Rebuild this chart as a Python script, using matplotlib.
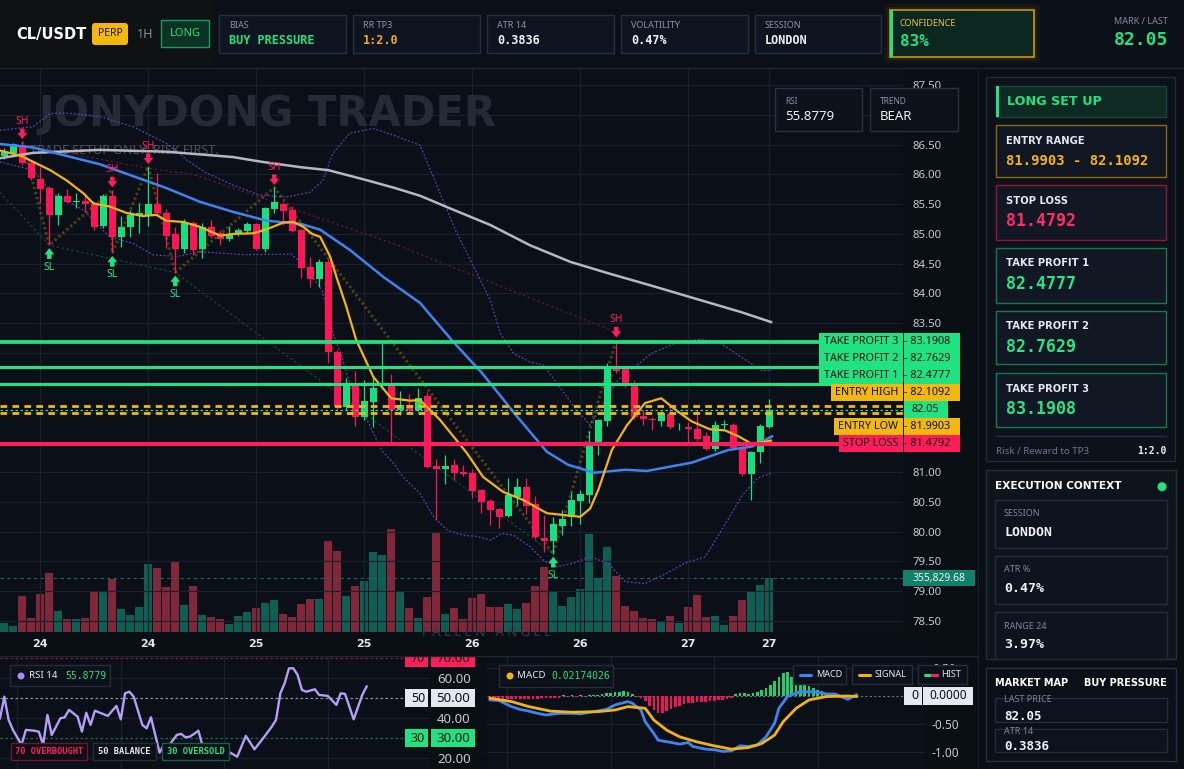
import numpy as np
import matplotlib.pyplot as plt
from matplotlib.patches import Rectangle, Circle, FancyBboxPatch
from matplotlib.transforms import blended_transform_factory

# ---------------- data ----------------
opens = [86.30, 86.36, 86.49, 86.19, 85.92, 85.77, 85.31, 85.64, 85.54, 85.55,
         85.50, 85.13, 85.63, 84.94, 85.11, 85.30, 85.32, 85.50, 85.35, 85.00,
         84.75, 85.18, 84.74, 85.11, 85.01, 84.91, 85.00, 85.05, 85.17, 84.75,
         85.41, 85.51, 85.40, 85.07, 84.45, 84.25, 84.53, 83.02, 82.10, 82.45,
         81.93, 82.18, 82.44, 82.45, 82.04, 82.13, 82.04, 82.27, 81.11, 81.06,
         81.12, 81.00, 80.98, 80.70, 80.52, 80.38, 80.26, 80.59, 80.75, 80.46,
         79.90, 79.85, 80.10, 80.25, 80.52, 80.62, 81.46, 81.86, 82.73, 82.73,
         82.50, 81.94, 81.90, 81.86, 81.98, 81.75, 81.76, 81.72, 81.60, 81.39,
         81.79, 81.79, 81.40, 80.97, 81.33, 81.76]
closes = [86.38, 86.51, 86.19, 85.93, 85.75, 85.32, 85.64, 85.54, 85.55, 85.51,
          85.12, 85.64, 84.95, 85.12, 85.32, 85.35, 85.50, 85.35, 84.96, 84.75,
          85.19, 84.73, 85.11, 84.96, 84.91, 85.00, 85.07, 85.17, 84.75, 85.43,
          85.53, 85.38, 85.05, 84.43, 84.25, 84.53, 83.01, 82.10, 82.49, 81.93,
          82.19, 82.42, 82.50, 82.04, 82.13, 82.04, 82.25, 81.09, 81.06, 81.11,
          80.98, 80.97, 80.69, 80.50, 80.36, 80.24, 80.62, 80.75, 80.43, 79.91,
          79.85, 80.13, 80.21, 80.53, 80.63, 81.47, 81.88, 82.74, 82.70, 82.49,
          81.93, 81.89, 81.88, 81.99, 81.75, 81.76, 81.72, 81.56, 81.39, 81.79,
          81.80, 81.40, 80.97, 81.34, 81.77, 82.05]
highs = [86.45, 86.53, 86.55, 86.22, 86.13, 85.80, 85.68, 85.75, 85.69, 85.68,
         85.55, 85.67, 85.74, 85.30, 85.40, 85.52, 86.13, 86.02, 85.42, 85.12,
         85.25, 85.22, 85.18, 85.23, 85.07, 85.13, 85.10, 85.20, 85.19, 85.45,
         85.78, 85.53, 85.47, 85.09, 84.62, 84.58, 84.58, 83.05, 82.58, 82.70,
         82.55, 82.63, 83.17, 82.65, 82.37, 82.32, 82.41, 82.35, 81.22, 81.28,
         81.22, 81.12, 81.05, 80.72, 80.55, 80.40, 80.90, 80.90, 80.90, 80.60,
         80.28, 80.25, 80.37, 80.66, 80.70, 81.69, 81.90, 82.84, 83.22, 82.78,
         82.55, 82.05, 81.92, 82.03, 82.07, 81.82, 81.85, 82.04, 81.68, 81.86,
         81.88, 81.82, 81.45, 81.35, 81.80, 82.23]
lows = [86.25, 86.32, 86.15, 85.90, 85.52, 84.81, 85.15, 85.52, 85.43, 85.38,
        85.07, 85.10, 84.68, 84.78, 84.95, 85.02, 85.13, 85.30, 84.76, 84.35,
        84.68, 84.65, 84.60, 84.93, 84.82, 84.88, 84.96, 85.02, 84.73, 84.69,
        85.35, 85.15, 85.03, 84.26, 84.10, 84.10, 82.84, 82.05, 82.05, 81.78,
        81.87, 81.75, 82.40, 81.51, 81.96, 81.99, 82.02, 81.07, 80.20, 80.80,
        80.86, 80.94, 80.57, 80.31, 80.11, 80.06, 80.24, 80.45, 80.30, 79.88,
        79.66, 79.63, 79.95, 80.10, 80.13, 80.49, 81.28, 81.77, 82.67, 82.43,
        81.90, 81.79, 81.71, 81.78, 81.72, 81.70, 81.50, 81.52, 81.37, 81.36,
        81.71, 81.37, 80.93, 80.53, 81.15, 81.74]
volumes_k = [59, 40, 237, 92, 250, 389, 138, 86, 86, 92, 264, 264, 349, 152, 112, 165,
             448, 422, 297, 461, 178, 303, 112, 99, 86, 53, 105, 132, 158, 191, 211, 119,
             99, 185, 217, 217, 600, 534, 237, 303, 336, 527, 507, 679, 270, 158, 92, 231,
             659, 119, 158, 86, 224, 250, 165, 165, 185, 152, 191, 303, 428, 264, 171, 231,
             283, 646, 356, 560, 369, 171, 138, 92, 86, 73, 105, 59, 165, 244, 99, 105,
             46, 105, 211, 270, 310, 355.83]

date_ticks = [4, 16, 28, 40, 52, 64, 76, 85]
date_labels = ['24', '24', '25', '25', '26', '26', '27', '27']

ema_fast_idx = [-0.5, 1.7, 3.2, 5.1, 6.9, 8.8, 9.9, 11.7, 13.6, 15.4, 16.9, 18.0, 19.9, 21.7,
                24.0, 25.5, 27.7, 29.2, 31.0, 32.1, 33.2, 34.2, 35.1, 36.2, 36.9, 38.0, 39.1,
                41.0, 43.0, 45.1, 46.2, 48.4, 51.4, 53.2, 55.4, 57.7, 60.3, 64.0, 65.1, 66.0,
                67.5, 69.2, 71.2, 73.0, 74.9, 76.4, 78.4, 80.1, 81.6, 83.0, 84.5, 85.2]
ema_fast = [86.40, 86.32, 86.21, 86.07, 85.90, 85.68, 85.51, 85.46, 85.35, 85.30, 85.32, 85.22,
            85.20, 85.12, 84.97, 85.00, 85.01, 85.08, 85.19, 85.20, 85.12, 85.00, 84.95, 84.62,
            84.28, 83.78, 83.22, 82.60, 82.24, 82.20, 82.21, 81.88, 81.32, 80.92, 80.67, 80.53,
            80.31, 80.25, 80.39, 80.70, 81.37, 81.79, 82.16, 82.24, 82.01, 81.85, 81.72, 81.70,
            81.60, 81.48, 81.51, 81.53]
ema_mid_idx = [-0.5, 3.2, 6.9, 10.6, 14.3, 18.0, 21.7, 25.4, 29.2, 32.9, 35.1, 38.4, 42.1,
               46.2, 49.7, 53.1, 57.0, 60.3, 62.7, 65.6, 69.0, 71.4, 76.4, 80.4, 83.1, 85.3]
ema_mid = [86.51, 86.45, 86.31, 86.17, 85.97, 85.77, 85.54, 85.37, 85.22, 85.17, 85.07, 84.73,
           84.28, 83.84, 83.22, 82.66, 81.93, 81.34, 81.12, 80.99, 81.04, 81.02, 81.16, 81.37,
           81.43, 81.60]
ema_slow_idx = [-0.5, 3.2, 10.6, 18.0, 25.4, 28.6, 32.9, 36.0, 40.3, 43.4, 46.2, 49.5, 54.0,
                58.4, 62.9, 67.3, 71.7, 77.3, 81.8, 85.2]
ema_slow = [86.27, 86.36, 86.41, 86.38, 86.29, 86.21, 86.12, 86.07, 85.90, 85.77, 85.64, 85.43,
            85.15, 84.81, 84.53, 84.33, 84.14, 83.89, 83.69, 83.52]

bb_up_idx = [-0.5, 3.2, 5.1, 6.9, 10.6, 14.3, 18.0, 20.3, 22.5, 25.4, 28.4, 31.4, 34.0, 35.4,
             36.5, 38.4, 41.0, 43.2, 46.2, 50.1, 54.0, 55.1, 56.6, 58.4, 59.9, 61.7, 63.6, 65.1,
             68.2, 71.9, 74.9, 77.5, 79.3, 81.5, 84.2, 85.3]
bb_up = [86.74, 86.80, 87.02, 87.03, 86.97, 86.80, 86.52, 86.24, 86.02, 85.82, 85.65, 85.62,
         85.70, 85.90, 86.35, 86.69, 86.77, 86.66, 86.49, 85.07, 83.89, 83.33, 82.99, 82.85,
         82.80, 82.43, 82.04, 81.79, 82.55, 82.99, 83.19, 83.23, 83.19, 82.97, 82.70, 82.71]
bb_lo_idx = [-0.5, 3.2, 5.4, 8.8, 11.7, 14.3, 16.5, 19.2, 21.7, 26.7, 31.9, 33.4, 35.3, 36.4,
             37.5, 38.6, 40.5, 41.9, 43.4, 44.3, 46.2, 47.7, 49.2, 51.0, 52.5, 54.0, 55.3, 56.6,
             58.4, 59.9, 61.4, 63.2, 65.1, 67.1, 69.0, 71.2, 73.7, 75.6, 77.9, 80.4, 81.9, 83.7,
             85.3]
bb_lo = [86.21, 86.07, 85.68, 85.40, 84.95, 84.84, 84.65, 84.62, 84.70, 84.65, 84.66, 84.45,
         84.06, 83.39, 82.94, 82.38, 81.82, 81.37, 81.12, 80.92, 80.64, 80.25, 80.03, 79.94,
         79.92, 79.86, 79.97, 79.94, 79.75, 79.52, 79.41, 79.47, 79.58, 79.47, 79.16, 79.13,
         79.31, 79.47, 79.58, 80.20, 80.59, 80.90, 80.99]

swing_high_idx = [2, 12, 16, 30, 68]
swing_low_idx = [5, 12, 19, 61]
zigzag_idx = [2, 5, 12, 12, 16, 19, 30, 61, 68]
zigzag_kind = ['H', 'L', 'H', 'L', 'H', 'L', 'H', 'L', 'H']
res_line_idx = [2, 16, 21, 43, 58, 68]
res_line = [86.50, 86.10, 86.00, 84.85, 83.95, 83.35]
sup_line_idx = [-0.5, 5, 19, 61]
sup_line = [85.70, 84.81, 84.35, 79.63]

tp_levels = [82.4777, 82.7629, 83.1908]
entry_low, entry_high = 81.9903, 82.1092
stop_loss = 81.4792
last_price = 82.05

rsi_bar = [0, 1, 2, 3, 5, 6, 8, 9, 10, 11, 12, 14, 15, 16, 18, 19, 20, 21, 22, 25, 27, 28, 29,
           30, 31, 33, 34, 35, 37, 38, 39, 41, 42, 43, 44, 45, 46, 47, 49, 53, 55, 57, 59, 61,
           63, 64, 65, 66, 67, 68, 69, 70, 71, 73, 74, 76, 78, 79, 80, 82, 84, 85]
rsi_val = [40.0, 50.8, 39.2, 34.2, 26.7, 34.2, 33.8, 33.3, 26.7, 41.7, 31.7, 40.0, 40.5, 44.2,
           40.8, 33.3, 42.8, 36.7, 43.8, 41.2, 46.2, 39.5, 52.5, 53.3, 50.8, 36.7, 35.0, 40.5,
           22.8, 26.7, 25.8, 31.7, 32.2, 30.5, 30.8, 32.2, 33.8, 25.8, 25.8, 23.3, 20.8, 31.2,
           24.5, 30.0, 35.8, 39.2, 52.5, 57.5, 65.0, 65.0, 61.7, 54.2, 53.3, 54.5, 51.7, 51.2,
           46.7, 52.5, 52.2, 39.5, 51.7, 55.88]

macd_bar = [0, 2, 5, 7, 9, 11, 13, 16, 19, 21, 24, 27, 29, 32, 33, 35, 36, 38, 39, 42, 44, 46,
            47, 50, 52, 54, 56, 58, 60, 62, 64, 66, 67, 69, 72, 75, 78, 80, 83, 85]
macd_val = [-0.07, -0.08, -0.19, -0.24, -0.27, -0.31, -0.34, -0.31, -0.31, -0.32, -0.28, -0.24,
            -0.16, -0.10, -0.13, -0.25, -0.46, -0.67, -0.79, -0.83, -0.86, -0.83, -0.90, -0.95,
            -0.96, -0.99, -0.98, -0.89, -0.90, -0.875, -0.73, -0.49, -0.22, -0.01, 0.077, 0.077,
            0.036, 0.036, -0.06, 0.022]
signal_bar = [0, 5, 9, 14, 19, 25, 29, 32, 36, 38, 41, 44, 48, 52, 56, 60, 63, 66, 68, 71, 74,
              78, 83, 85]
signal_val = [-0.04, -0.10, -0.19, -0.27, -0.29, -0.28, -0.25, -0.19, -0.22, -0.43, -0.61, -0.73,
              -0.82, -0.89, -0.95, -0.92, -0.85, -0.70, -0.46, -0.22, -0.07, -0.01, 0.0, -0.01]
hist_val = [-0.07, -0.07, -0.065, -0.065, -0.06, -0.06, -0.06, -0.055, -0.055, -0.05, -0.05,
            -0.045, -0.04, -0.035, -0.035, -0.03, -0.03,
            0.02,
            -0.01, 0.01, -0.015, 0.01, -0.01, 0.01, 0.015,
            0.02, 0.03, 0.05, 0.06, 0.07, 0.08, 0.09, 0.07, 0.04,
            -0.02, -0.04,
            -0.09, -0.17, -0.25, -0.30, -0.30, -0.27, -0.24, -0.19, -0.17, -0.15, -0.13, -0.12,
            -0.11, -0.11, -0.10, -0.095, -0.09, -0.08, -0.07, -0.06, -0.03,
            0.03, 0.06, 0.05, 0.04, 0.05, 0.08, 0.11, 0.15, 0.20, 0.27, 0.34, 0.41, 0.42, 0.34,
            0.29, 0.25, 0.21, 0.17, 0.15, 0.11, 0.09, 0.06, 0.05, 0.03,
            -0.03, -0.05, -0.05, -0.03, 0.02]

# ---------------- style ----------------
W, H = 1184, 769
BG = '#0a0e15'
CHART_BG = '#0b0f17'
GRID = '#1a202c'
GREEN = '#1ee380'
RED = '#ff1c5b'
YELLOW = '#f2b90c'
C_UP = '#14e07f'
C_DN = '#ff1455'
BLUE = '#3d84f2'
TXT = '#c5cad3'
MONO = 'DejaVu Sans Mono'
SANS = ['Noto Sans', 'DejaVu Sans']
BOLD = 'DejaVu Sans'
plt.rcParams['font.family'] = SANS

fig = plt.figure(figsize=(W / 100, H / 100), dpi=100, facecolor=BG)


def frame(x0, y0, x1, y1):
    return [x0 / W, 1 - y1 / H, (x1 - x0) / W, (y1 - y0) / H]


# ---------------- main price chart ----------------
ax = fig.add_axes(frame(0, 68, 903, 632))
axv = ax.twinx()
ax.set_zorder(3)
axv.set_zorder(2)
ax.patch.set_visible(False)
axv.patch.set_visible(True)
axv.patch.set_facecolor(CHART_BG)

ymin, ymax = 78.316, 87.785
ax.set_xlim(-0.478, 99.86)
ax.set_ylim(ymin, ymax)
ppu = 564 / (ymax - ymin)   # pixels per price unit

for a in (ax, axv):
    for s in a.spines.values():
        s.set_visible(False)
axv.set_yticks([])
ax.yaxis.tick_right()
price_ticks = np.arange(78.5, 87.51, 0.5)
covered = (83.0, 82.5, 82.0, 81.5)   # hidden under the level tags
ax.set_yticks(price_ticks, ['' if round(v, 2) in covered else '%.2f' % v for v in price_ticks])
ax.set_xticks(date_ticks, date_labels)
ax.tick_params(axis='y', length=0, pad=6.5, labelsize=8.2, labelcolor=TXT)
ax.tick_params(axis='x', length=0, pad=5, labelsize=8.5, labelcolor='#e4e7ee')
for t in ax.get_xticklabels():
    t.set_fontweight('bold')
    t.set_family(BOLD)
    t.set_fontsize(8)
ax.set_axisbelow(True)
ax.grid(True, color=GRID, lw=0.9)

ax.text(38 / 903, (632 - 114) / 564, 'JONYDONG TRADER', transform=ax.transAxes, fontsize=30,
        fontweight='bold', family=BOLD, color='#252a35', va='center', zorder=1)
ax.text(30 / 903, (632 - 150) / 564, 'TRADE SETUP ONLY. RISK FIRST.', transform=ax.transAxes,
        fontsize=9, color='#4d525e', va='center', zorder=1)

o = np.array(opens)
c = np.array(closes)
hi = np.array(highs)
lo = np.array(lows)
idx = np.arange(len(o))
up = c >= o
ccol = np.where(up, C_UP, C_DN)

# volume
vcol = np.where(up, '#0f5e54', '#82263a')
axv.bar(idx, volumes_k, width=0.88, color=vcol)
axv.set_ylim(0, volumes_k[-1] * 564 / 54)
axv.axhline(volumes_k[-1], color='#1c6a60', lw=0.8, ls=(0, (3, 3)))
bv = blended_transform_factory(axv.transAxes, axv.transData)
vh = 8 * volumes_k[-1] / 54
axv.add_patch(Rectangle((903 / 903, volumes_k[-1] - vh), 72 / 903, 2 * vh, transform=bv,
                        fc='#13806c', ec='none', clip_on=False, zorder=5))
axv.text(939 / 903, volumes_k[-1], '355,829.68', transform=bv, ha='center', va='center',
         fontsize=7.5, color='#e8f4f1', clip_on=False, zorder=6)

# bands, trend lines, zigzag
ax.plot(bb_up_idx, bb_up, color='#5a44b5', lw=0.9, ls=(0, (1.5, 1.5)), zorder=2)
ax.plot(bb_lo_idx, bb_lo, color='#5a44b5', lw=0.9, ls=(0, (1.5, 1.5)), zorder=2)
ax.plot(res_line_idx, res_line, color='#5c1a2e', lw=0.9, ls=(0, (2, 2)), zorder=2)
ax.plot(sup_line_idx, sup_line, color='#0f4a36', lw=0.9, ls=(0, (2, 2)), zorder=2)
zig_p = [hi[i] if k == 'H' else lo[i] for i, k in zip(zigzag_idx, zigzag_kind)]
ax.plot(zigzag_idx, zig_p, color=YELLOW, alpha=0.28, lw=2.2, ls=(0, (0.8, 0.9)), zorder=2.5)

# candles
ax.vlines(idx, lo, hi, colors=ccol, lw=0.9, zorder=4)
ax.bar(idx, np.maximum(np.abs(c - o), 0.014), bottom=np.minimum(o, c), width=0.72,
       color=ccol, zorder=5)

# moving averages
ax.plot(ema_slow_idx, ema_slow, color='#b5b8bf', lw=1.8, zorder=6)
ax.plot(ema_mid_idx, ema_mid, color=BLUE, lw=1.8, zorder=6)
ax.plot(ema_fast_idx, ema_fast, color='#f4b40f', lw=1.6, zorder=6)

# trade levels
for v, lw in zip(tp_levels, (2.2, 2.2, 2.7)):
    ax.axhline(v, color=GREEN, lw=lw, zorder=7)
ax.axhline(stop_loss, color=RED, lw=2.9, zorder=7)
for v in (entry_high, entry_low):
    ax.axhline(v, color=YELLOW, lw=2.0, ls=(0, (2.4, 1.9)), zorder=7)
ax.axhline(last_price, color=GREEN, lw=0.9, ls=(0, (2, 2)), zorder=7)

# swing markers
arrow = 'simple,head_length=0.45,head_width=0.7,tail_width=0.32'
for i in swing_high_idx:
    ax.annotate('', xy=(i, hi[i] + 0.04), xytext=(i, hi[i] + 0.22), zorder=8,
                arrowprops=dict(arrowstyle=arrow, fc=RED, ec='none', shrinkA=0, shrinkB=0))
    ax.text(i, hi[i] + 0.34, 'SH', color=RED, fontsize=7.5, ha='center', va='center', zorder=8)
for i in swing_low_idx:
    ax.annotate('', xy=(i, lo[i] - 0.05), xytext=(i, lo[i] - 0.23), zorder=8,
                arrowprops=dict(arrowstyle=arrow, fc=GREEN, ec='none', shrinkA=0, shrinkB=0))
    ax.text(i, lo[i] - 0.37, 'SL', color=GREEN, fontsize=7.5, ha='center', va='center', zorder=8)

# level tags on the price scale, stacked around the last price
bt = blended_transform_factory(ax.transAxes, ax.transData)
level_names = ['TAKE PROFIT 3', 'TAKE PROFIT 2', 'TAKE PROFIT 1', 'ENTRY HIGH', '',
               'ENTRY LOW', 'STOP LOSS']
level_values = [tp_levels[2], tp_levels[1], tp_levels[0], entry_high, last_price,
                entry_low, stop_loss]
level_colors = [GREEN, GREEN, GREEN, YELLOW, GREEN, YELLOW, RED]
label_left = [819, 819, 819, 831, None, 834, 839]
half = 8.5 / ppu
for k, (name, val, col, x0) in enumerate(zip(level_names, level_values, level_colors, label_left)):
    yc = last_price + (4 - k) * 17 / ppu
    if x0 is not None:
        ax.add_patch(Rectangle((x0 / 903, yc - half), (903 - x0) / 903, 2 * half, transform=bt,
                               fc=col, ec='none', clip_on=False, zorder=10))
        ax.text(898 / 903, yc, name, transform=bt, ha='right', va='center', fontsize=7.8,
                color='#0b0f17', clip_on=False, zorder=11)
        vtxt = '- %.4f' % val
        vw = 56
    else:
        vtxt = '%.2f' % val
        vw = 44
    ax.add_patch(Rectangle((904 / 903, yc - half), vw / 903, 2 * half, transform=bt,
                           fc=col, ec='none', clip_on=False, zorder=10))
    ax.text((904 if x0 else 911) / 903, yc, vtxt, transform=bt, ha='left', va='center',
            fontsize=7.8, color='#0b0f17', clip_on=False, zorder=11)

# ---------------- RSI panel ----------------
axr = fig.add_axes(frame(0, 656, 430, 769))
axr.set_facecolor(CHART_BG)
axr.set_xlim(0, 99.7)
axr.set_ylim(14.65, 71.15)
for s in axr.spines.values():
    s.set_visible(False)
axr.set_xticks([4, 28, 52, 76])
axr.set_yticks([20, 40, 60], ['20.00', '40.00', '60.00'])
axr.yaxis.tick_right()
axr.tick_params(axis='x', length=0, labelbottom=False)
axr.tick_params(axis='y', length=0, pad=5, labelsize=9.5, labelcolor=TXT)
axr.set_axisbelow(True)
axr.grid(True, color=GRID, lw=0.9)
axr.axhline(70, color='#8c1838', lw=0.9, ls=(0, (2, 2)))
axr.axhline(50, color='#8d939e', lw=0.9, ls=(0, (2, 2)))
axr.axhline(30, color='#13704a', lw=0.9, ls=(0, (2, 2)))
axr.plot(rsi_bar, rsi_val, color='#b49ef6', lw=1.7, zorder=3)
br = blended_transform_factory(axr.transAxes, axr.transData)
axrs = fig.add_axes(frame(430, 656, 478, 769))
axrs.set_xlim(430, 478)
axrs.set_ylim(14.65, 71.15)
axrs.axis('off')
for v, col in ((70, RED), (50, '#e4e8f0'), (30, GREEN)):
    axr.add_patch(Rectangle((405 / 430, v - 4.5), 23 / 430, 9, transform=br, fc=col, ec='none',
                            zorder=5))
    axr.text(425 / 430, v, str(v), transform=br, ha='right', va='center', fontsize=9,
             color='#0b0f17', zorder=6)
    axrs.add_patch(Rectangle((431, v - 4.5), 44, 9, fc=col, ec='none'))
    axrs.text(453, v, '%.2f' % v, ha='center', va='center', fontsize=9.5, color='#0b0f17')

# ---------------- MACD panel ----------------
axm = fig.add_axes(frame(487, 656, 925, 769))
axm.set_facecolor(CHART_BG)
axm.set_xlim(-0.7, 100.9)
axm.set_ylim(-1.304, 0.714)
for s in axm.spines.values():
    s.set_visible(False)
axm.set_xticks([4, 28, 52, 76])
axm.set_yticks([0.5, -0.5, -1.0], ['0.50', '-0.50', '-1.00'])
axm.yaxis.tick_right()
axm.tick_params(axis='x', length=0, labelbottom=False)
axm.tick_params(axis='y', length=0, pad=5, labelsize=8.5, labelcolor=TXT)
axm.set_axisbelow(True)
axm.grid(True, color=GRID, lw=0.9)
axm.axhline(0, color='#6b717d', lw=0.8, ls=(0, (2, 2)))
hv = np.array(hist_val)
axm.bar(np.arange(len(hv)), hv, width=0.62, color=np.where(hv >= 0, '#1bcf6e', '#f0145a'),
        zorder=3)
axm.plot(macd_bar, macd_val, color=BLUE, lw=2.0, zorder=4)
axm.plot(signal_bar, signal_val, color='#f4b40f', lw=2.0, zorder=4)
bm = blended_transform_factory(axm.transAxes, axm.transData)
h0 = 9 / 56
axm.add_patch(Rectangle((417 / 438, -h0), 18 / 438, 2 * h0, transform=bm, fc='#e4e8f0', ec='none',
                        zorder=5))
axm.text(432 / 438, 0, '0', transform=bm, ha='right', va='center', fontsize=9, color='#0b0f17',
         zorder=6)
axm.add_patch(Rectangle((436 / 438, -h0), 50 / 438, 2 * h0, transform=bm, fc='#e4e8f0', ec='none',
                        clip_on=False, zorder=5))
axm.text(461 / 438, 0, '0.0000', transform=bm, ha='center', va='center', fontsize=8.5,
         color='#0b0f17', clip_on=False, zorder=6)

# ---------------- interface layer (pixel coordinates) ----------------
ui = fig.add_axes([0, 0, 1, 1], zorder=20)
ui.set_xlim(0, W)
ui.set_ylim(H, 0)
ui.axis('off')


def box(x0, y0, x1, y1, fc='none', ec='none', lw=1.0, z=1, alpha=1.0):
    ui.add_patch(Rectangle((x0, y0), x1 - x0, y1 - y0, facecolor=fc, edgecolor=ec,
                           linewidth=lw, zorder=z, alpha=alpha))


def txt(x, y, s, size, color, weight='normal', ha='left', family=None, z=5):
    if family is None:
        family = BOLD if weight == 'bold' else SANS
    ui.text(x, y, s, fontsize=size, color=color, fontweight=weight, ha=ha, va='center',
            family=family, zorder=z)


# header
box(0, 0, W, 67, fc='#0b0f17')
box(0, 0, 215, 67, fc='#14160f', alpha=0.5)
ui.plot([0, W], [67.5, 67.5], color='#1e2533', lw=1)
txt(16, 34, 'CL/USDT', 10.5, 'white', 'bold')
ui.add_patch(FancyBboxPatch((94, 25), 32, 18, boxstyle='round,pad=2,rounding_size=3',
                            fc=YELLOW, ec='none'))
txt(110, 34, 'PERP', 7.5, '#1a1400', ha='center')
txt(145, 34, '1H', 9, '#858b97', ha='center')
box(161, 20, 209, 47, fc='#0b3223', ec='#1a9a5a')
txt(185, 34, 'LONG', 8, GREEN, ha='center')
stats = [(219, 346, 'BIAS', 'BUY PRESSURE', GREEN),
         (353, 480, 'RR TP3', '1:2.0', '#f5a623'),
         (487, 614, 'ATR 14', '0.3836', '#eef1f6'),
         (621, 748, 'VOLATILITY', '0.47%', '#eef1f6'),
         (755, 881, 'SESSION', 'LONDON', '#eef1f6')]
for x0, x1, lab, val, col in stats:
    box(x0, 15, x1, 52.5, fc='#0f1520', ec='#262e3b')
    txt(x0 + 10, 26, lab, 6.5, '#8a92a2')
    txt(x0 + 10, 40.5, val, 8.5, col, 'bold', family=MONO)
for g, a in ((6, 0.05), (3, 0.08)):
    box(890 - g, 10 - g, 1034 + g, 57.3 + g, fc='#c99a10', alpha=a)
box(890, 10, 1034, 57.3, fc='#0c2620', ec='#c9960c', lw=1.2, z=2)
box(890, 10, 893, 57.3, fc=GREEN, z=3)
txt(900, 23, 'CONFIDENCE', 6.5, '#e8c24c')
txt(900, 41, '83%', 11.5, GREEN, 'bold', family=MONO)
txt(1168, 22, 'MARK / LAST', 6.5, '#858d9c', ha='right')
txt(1168, 40, '82.05', 13, GREEN, 'bold', ha='right', family=MONO)

ui.plot([978, 978], [68, H], color='#161c27', lw=1)
ui.plot([0, 978], [656, 656], color='#1e2533', lw=1)
txt(486, 632, 'F A L L E N   A N G E L', 9.5, '#353a45', ha='center')

# chart overlays
box(775, 88, 862, 131, fc='#0d1119', ec='#2a313e')
txt(785, 101, 'RSI', 6, '#8a92a2')
txt(785, 117, '55.8779', 9.5, '#eef1f6')
box(870, 88, 958, 131, fc='#0d1119', ec='#2a313e')
txt(880, 101, 'TREND', 6, '#8a92a2')
txt(880, 117, 'BEAR', 9.5, '#eef1f6')

# right panel: trade setup
box(986, 77, 1175, 461, fc='#0c111a', ec='#222a38')
box(996, 86, 1166, 117, fc='#0e2a22', ec='#16463a')
box(996, 86, 999, 117, fc=GREEN, z=2)
txt(1007, 101.5, 'LONG SET UP', 9.2, GREEN, 'bold')
cards = [(125, 176.7, 'ENTRY RANGE', '81.9903 - 82.1092', '#8a6a10', '#f5b40f', 10),
         (185, 240, 'STOP LOSS', '81.4792', '#8c1838', '#ff2d64', 12),
         (248, 302.7, 'TAKE PROFIT 1', '82.4777', '#157a4a', '#27e586', 12),
         (310.7, 364.3, 'TAKE PROFIT 2', '82.7629', '#157a4a', '#27e586', 12),
         (373.3, 427.3, 'TAKE PROFIT 3', '83.1908', '#157a4a', '#27e586', 12)]
for y0, y1, lab, val, ec, vc, fs in cards:
    box(996, y0, 1166, y1, fc='#111723', ec=ec)
    txt(1006, y0 + 15.5, lab, 7.2, '#e2e6ee', 'bold')
    txt(1006, y0 + 36, val, fs, vc, 'bold', family=MONO)
ui.plot([996, 1166], [436, 436], color='#263040', lw=1)
txt(996, 451, 'Risk / Reward to TP3', 7, '#6f7787')
txt(1166, 451, '1:2.0', 7, '#eef1f6', 'bold', ha='right', family=MONO)

# right panel: execution context
box(986, 470, 1176, 659, fc='#0d141b', ec='#26303c')
txt(995, 486, 'EXECUTION CONTEXT', 7.6, 'white', 'bold')
ui.add_patch(Circle((1162, 486.7), 4.5, fc=GREEN, ec='none', zorder=3))
ctx = [(500, 548.3, 'SESSION', 'LONDON'), (556, 604.3, 'ATR %', '0.47%'),
       (612.3, 659, 'RANGE 24', '3.97%')]
for y0, y1, lab, val in ctx:
    box(995, y0, 1167, y1, fc='#0e141d', ec='#232c3a', z=2)
    txt(1004, y0 + 14, lab, 6.5, '#7d8595')
    txt(1004, y0 + 32, val, 9.5, '#eef1f6', 'bold', family=MONO)

# right panel: market map
box(986, 668, 1176, 761, fc='#0b1018', ec='#26303c')
txt(995, 683, 'MARKET MAP', 7, 'white', 'bold')
txt(1167, 683, 'BUY PRESSURE', 7, 'white', 'bold', ha='right')
for y0, y1, lab, val in ((698, 722, 'LAST PRICE', '82.05'), (729, 752, 'ATR 14', '0.3836')):
    box(995, y0, 1167, y1, fc='#0d131c', ec='#232c3a', z=2)
    txt(1004, y0 + 2, lab, 6.5, '#7d8595', z=6)
    txt(1004, y0 + 18, val, 9, '#eef1f6', 'bold', family=MONO)

# RSI legends
box(10, 665, 110, 686, fc='#0d1119', ec='#262d3a')
ui.add_patch(Circle((21, 676), 3.5, fc='#a98cf5', ec='none', zorder=3))
txt(29, 676, 'RSI 14', 7, '#e4e7ee')
txt(65, 676, '55.8779', 7, GREEN, family=MONO)
for x0, x1, s, col, ec in ((10.7, 87.3, '70 OVERBOUGHT', RED, '#6e1530'),
                           (93, 156, '50 BALANCE', '#e4e7ee', '#262d3a'),
                           (162, 229, '30 OVERSOLD', GREEN, '#146040')):
    box(x0, 743, x1, 760, fc='#0b0f17', ec=ec)
    txt((x0 + x1) / 2, 751.5, s, 6.3, col, 'bold', ha='center', family=MONO)

# MACD legends
box(499, 665, 613, 687, fc='#0d1119', ec='#262d3a')
ui.add_patch(Circle((510, 676), 3.5, fc='#f4b40f', ec='none', zorder=3))
txt(517, 676, 'MACD', 7, '#e4e7ee')
txt(551, 676, '0.02174026', 7, GREEN, family=MONO)
for x0, x1, s, col in ((793, 846, 'MACD', BLUE), (852, 912, 'SIGNAL', '#f4b40f'),
                       (918, 967, 'HIST', GREEN)):
    box(x0, 665, x1, 684, fc='#0d1119', ec='#262d3a')
    ui.plot([x0 + 7, x0 + 18], [674.5, 674.5], color=col, lw=2.2, zorder=3,
            solid_capstyle='round')
    txt(x0 + 23, 674.5, s, 6.5, '#e4e7ee')
ui.plot([925 + 7, 925 + 12], [674.5, 674.5], color=RED, lw=2.2, zorder=4)

fig.savefig('out.png', dpi=100, facecolor=BG)
